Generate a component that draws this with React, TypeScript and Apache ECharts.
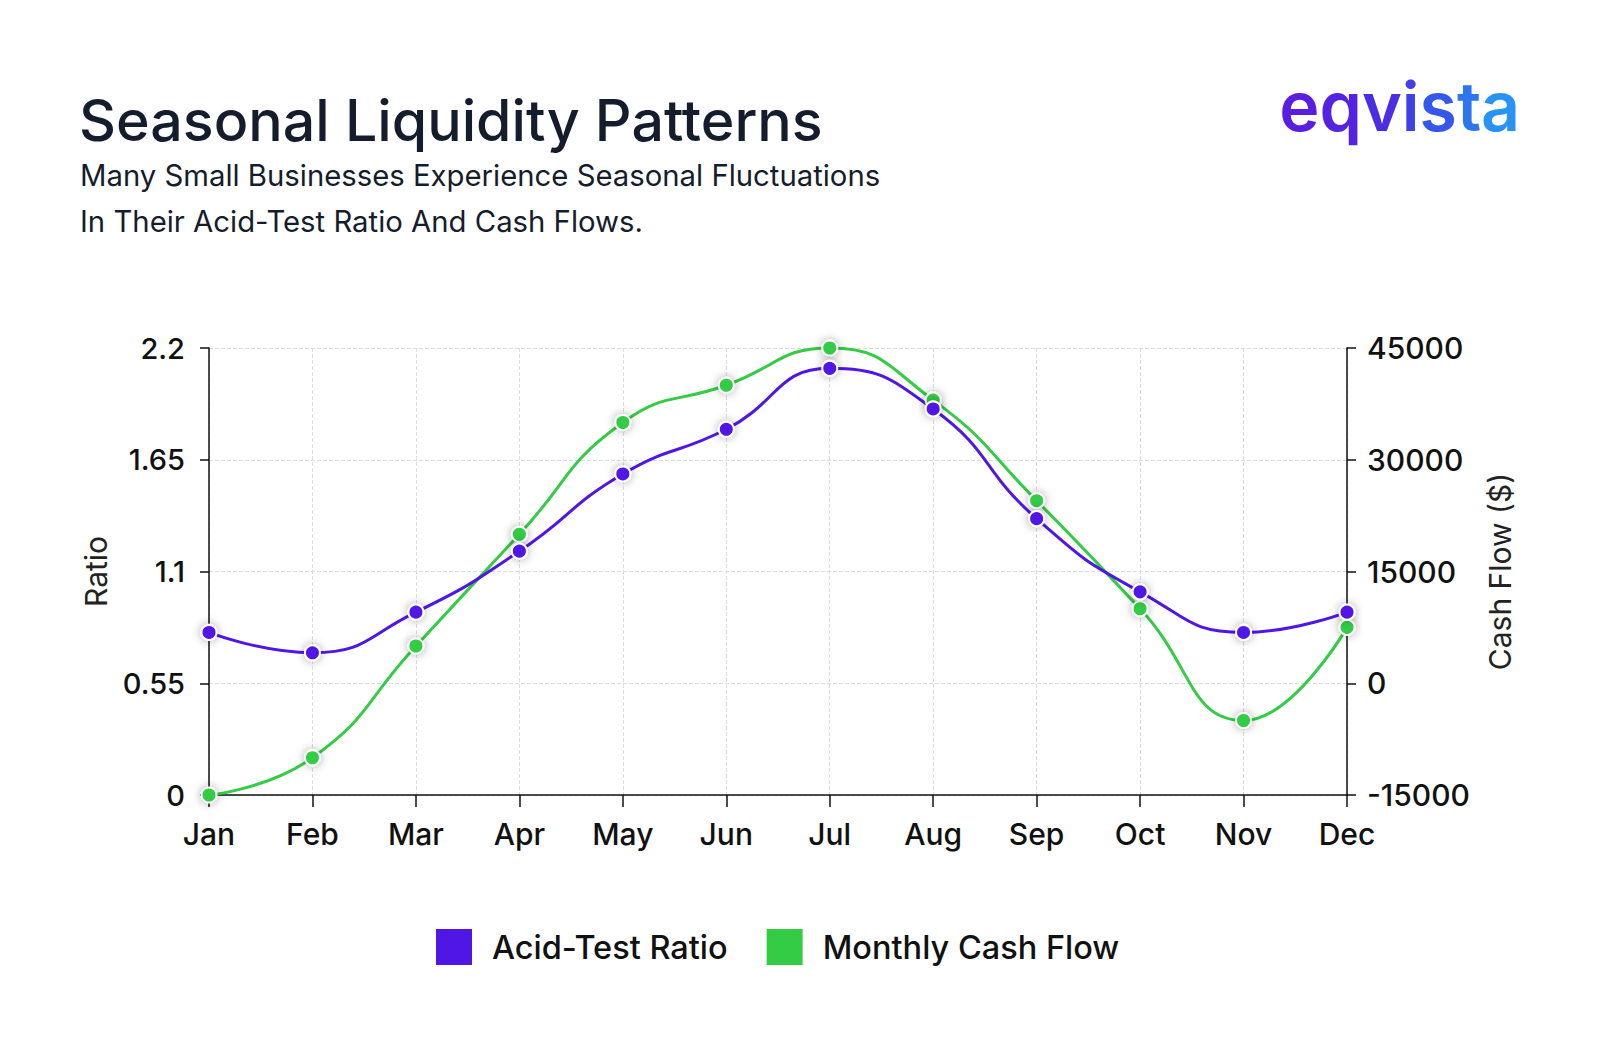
import React, { useEffect, useRef } from "react";
import * as echarts from "echarts";

// Monthly figures
const months = ["Jan", "Feb", "Mar", "Apr", "May", "Jun", "Jul", "Aug", "Sep", "Oct", "Nov", "Dec"];
const acidTestRatio = [0.8, 0.7, 0.9, 1.2, 1.58, 1.8, 2.1, 1.9, 1.36, 1.0, 0.8, 0.9];
const monthlyCashFlow = [-15000, -10000, 5000, 20000, 35000, 40000, 45000, 38000, 24500, 10000, -5000, 7500];

// Axis scales
const ratioTicks = { min: 0, max: 2.2, interval: 0.55 };
const cashTicks = { min: -15000, max: 45000, interval: 15000 };

// Brand word mark, one colour per letter running purple to blue
const logoLetters = ["e", "q", "v", "i", "s", "t", "a"];
const logoColors = ["#5a1ee0", "#5422e2", "#4b2de4", "#413fe6", "#3658ea", "#2e76ef", "#2893f4"];

const PURPLE = "#4f16e6";
const GREEN = "#33cc44";
const FONT = "Inter, 'Noto Sans', sans-serif";

export default function App() {
  const ref = useRef<HTMLDivElement>(null);

  useEffect(() => {
    if (!ref.current) return;
    const chart = echarts.init(ref.current, null, { renderer: "svg" });

    const markerStyle = (color: string) => ({
      color,
      borderColor: "#ffffff",
      borderWidth: 2,
      shadowBlur: 10,
      shadowColor: "rgba(0,0,0,0.35)",
    });

    const logoRich: Record<string, any> = {};
    logoLetters.forEach((_, i) => {
      logoRich["l" + i] = { fill: logoColors[i], font: `600 68px ${FONT}` };
    });
    const logoText = logoLetters.map((ch, i) => `{l${i}|${ch}}`).join("");

    chart.setOption({
      animation: false,
      backgroundColor: "#ffffff",
      textStyle: { fontFamily: FONT },
      graphic: [
        {
          type: "text",
          left: 79,
          top: 91,
          style: {
            text: "Seasonal Liquidity Patterns",
            font: `500 57.3px ${FONT}`,
            fill: "#151c2c",
          },
        },
        {
          type: "text",
          left: 80,
          top: 152,
          style: {
            text: "Many Small Businesses Experience Seasonal Fluctuations\nIn Their Acid-Test Ratio And Cash Flows.",
            font: `400 29.3px ${FONT}`,
            lineHeight: 46,
            fill: "#151c2c",
          },
        },
        {
          type: "text",
          right: 80,
          top: 72,
          style: {
            text: logoText,
            font: `600 68px ${FONT}`,
            rich: logoRich,
          },
        },
      ],
      legend: {
        bottom: 87,
        left: 429,
        itemWidth: 38,
        itemHeight: 38,
        itemGap: 37,
        icon: "rect",
        textStyle: { fontSize: 32.5, fontWeight: 500, color: "#111111", fontFamily: FONT, padding: [0, 0, 0, 14] },
        data: [
          { name: "Acid-Test Ratio", itemStyle: { color: PURPLE } },
          { name: "Monthly Cash Flow", itemStyle: { color: GREEN } },
        ],
      },
      grid: { left: 209, right: 253, top: 348, bottom: 264, containLabel: false },
      xAxis: {
        type: "category",
        data: months,
        boundaryGap: false,
        axisLine: { lineStyle: { color: "#111111", width: 1.5 } },
        axisTick: { show: true, length: 12, alignWithLabel: true, lineStyle: { color: "#111111", width: 1.5 } },
        axisLabel: { fontSize: 30, fontWeight: 500, color: "#111111", margin: 24, fontFamily: FONT },
        splitLine: { show: true, lineStyle: { color: "#dcdcdc", type: "dashed", width: 1 } },
      },
      yAxis: [
        {
          type: "value",
          ...ratioTicks,
          name: "Ratio",
          nameLocation: "middle",
          nameGap: 98,
          nameRotate: 90,
          nameTextStyle: { fontSize: 30, color: "#222222", fontFamily: FONT },
          axisLine: { show: true, lineStyle: { color: "#111111", width: 1.5 } },
          axisTick: { show: true, length: 9, lineStyle: { color: "#111111", width: 1.5 } },
          axisLabel: { fontSize: 29, fontWeight: 500, color: "#111111", margin: 24, fontFamily: FONT },
          splitLine: { show: true, lineStyle: { color: "#dcdcdc", type: "dashed", width: 1 } },
        },
        {
          type: "value",
          ...cashTicks,
          name: "Cash Flow ($)",
          nameLocation: "middle",
          nameGap: 138,
          nameRotate: 90,
          nameTextStyle: { fontSize: 30, color: "#222222", fontFamily: FONT },
          axisLine: { show: true, lineStyle: { color: "#111111", width: 1.5 } },
          axisTick: { show: true, length: 9, lineStyle: { color: "#111111", width: 1.5 } },
          axisLabel: {
            fontSize: 30,
            fontWeight: 500,
            color: "#111111",
            margin: 20,
            fontFamily: FONT,
            formatter: (v: number) => String(v),
          },
          splitLine: { show: false },
        },
      ],
      series: [
        {
          name: "Monthly Cash Flow",
          type: "line",
          yAxisIndex: 1,
          data: monthlyCashFlow,
          smooth: true,
          symbol: "circle",
          symbolSize: 15,
          lineStyle: { color: GREEN, width: 3 },
          itemStyle: markerStyle(GREEN),
        },
        {
          name: "Acid-Test Ratio",
          type: "line",
          yAxisIndex: 0,
          data: acidTestRatio,
          smooth: true,
          symbol: "circle",
          symbolSize: 15,
          lineStyle: { color: PURPLE, width: 3 },
          itemStyle: markerStyle(PURPLE),
        },
      ],
    });

    return () => chart.dispose();
  }, []);

  return (
    <div
      ref={ref}
      style={{ position: "fixed", left: 0, top: 0, width: 1600, height: 1059, background: "#ffffff" }}
    />
  );
}
